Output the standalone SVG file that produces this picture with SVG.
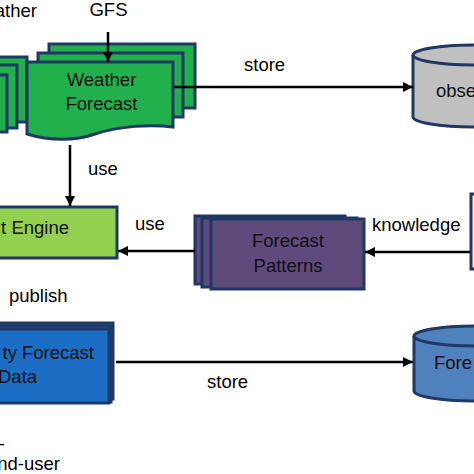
<svg xmlns="http://www.w3.org/2000/svg" width="474" height="474" viewBox="0 0 474 474">
<defs>
<marker id="arr" markerWidth="10" markerHeight="10" refX="10" refY="5" orient="auto" markerUnits="userSpaceOnUse">
<path d="M0,0 L10,5 L0,10 Z" fill="#000"/>
</marker>
<style>
text{font-family:"Liberation Sans",Arial,sans-serif;font-size:18.5px;fill:#111}
.lbl{fill:#000}
.st{stroke:#1f3864;stroke-width:3;stroke-linejoin:miter}
.green{fill:#21b04b}
.lg{fill:#92d050}
.pur{fill:#5f4a7c}
.blue{fill:#1c6ec4}
.bcyl{fill:#4f81bd}
.gcyl{fill:#c0c0c0}
.conn{stroke:#000;stroke-width:2.5;fill:none}
</style>
</defs>
<rect width="474" height="474" fill="#fff"/>

<g id="weather-obs">
<rect class="st green" x="-20" y="57" width="47" height="65"/>
<rect class="st green" x="-20" y="65" width="37" height="63"/>
<rect class="st green" x="-20" y="75" width="27" height="57"/>
<text x="37" y="17" text-anchor="end" class="lbl">ather</text>
</g>

<g id="gfs">
<text x="108.5" y="16" text-anchor="middle" class="lbl">GFS</text>
</g>

<g id="weather-forecast">
<rect class="st green" x="49" y="44" width="146" height="64"/>
<rect class="st green" x="38" y="53" width="145" height="64"/>
<path class="st green" d="M27,62 H173 V127 C150,124 120,126 95,134 C75,141 50,141 27,134 Z"/>
<text x="101.5" y="86" text-anchor="middle">Weather</text>
<text x="101.5" y="110" text-anchor="middle">Forecast</text>
</g>

<g id="observations">
<path class="st gcyl" d="M413,55 A60,10 0 0,1 533,55 V117 A60,10 0 0,1 413,117 Z"/>
<path class="st" fill="none" d="M413,55 A60,10 0 0,0 533,55"/>
<text x="436" y="97">obse</text>
</g>

<g id="forecast-engine">
<rect class="st lg" x="-10" y="207" width="127" height="51"/>
<text x="69" y="234" text-anchor="end">t Engine</text>
</g>

<g id="forecast-patterns">
<rect class="st pur" x="195" y="216" width="150" height="68"/>
<rect class="st pur" x="202" y="218" width="155" height="69"/>
<rect class="st pur" x="211" y="219" width="153" height="70"/>
<text x="288" y="247" text-anchor="middle">Forecast</text>
<text x="288" y="272" text-anchor="middle">Patterns</text>
</g>

<g id="knowledge-source">
<rect x="471" y="194" width="20" height="75" fill="#f4f4f4" stroke="#1f3864" stroke-width="3"/>
</g>

<g id="community-forecast">
<rect class="st blue" x="-10" y="323" width="123" height="76"/>
<rect class="st blue" x="-10" y="326" width="121" height="76"/>
<rect class="st blue" x="-10" y="329" width="119" height="74"/>
<text x="94" y="359" text-anchor="end">ty Forecast</text>
<text x="-2" y="383">Data</text>
</g>

<g id="forecast-db">
<path class="st bcyl" d="M414,336 A60,10 0 0,1 534,336 V391 A60,10 0 0,1 414,391 Z"/>
<path class="st" fill="none" d="M414,336 A60,10 0 0,0 534,336"/>
<text x="434" y="369">Fore</text>
</g>

<g id="end-user">
<text x="5" y="450" text-anchor="end" class="lbl">-</text>
<text x="60" y="470" text-anchor="end" class="lbl">nd-user</text>
</g>

<g id="connectors">
<line class="conn" x1="108" y1="32" x2="108" y2="62" marker-end="url(#arr)"/>
<line class="conn" x1="174" y1="87" x2="413" y2="87" marker-end="url(#arr)"/>
<text x="244" y="71" class="lbl">store</text>
<line class="conn" x1="70" y1="145" x2="70" y2="206" marker-end="url(#arr)"/>
<text x="88" y="175" class="lbl">use</text>
<line class="conn" x1="195" y1="251" x2="118" y2="251" marker-end="url(#arr)"/>
<text x="135" y="230" class="lbl">use</text>
<line class="conn" x1="470" y1="252" x2="365" y2="252" marker-end="url(#arr)"/>
<text x="372" y="231" class="lbl">knowledge</text>
<text x="9" y="302" class="lbl">publish</text>
<line class="conn" x1="116" y1="362" x2="413" y2="362" marker-end="url(#arr)"/>
<text x="207" y="388" class="lbl">store</text>
</g>
</svg>
